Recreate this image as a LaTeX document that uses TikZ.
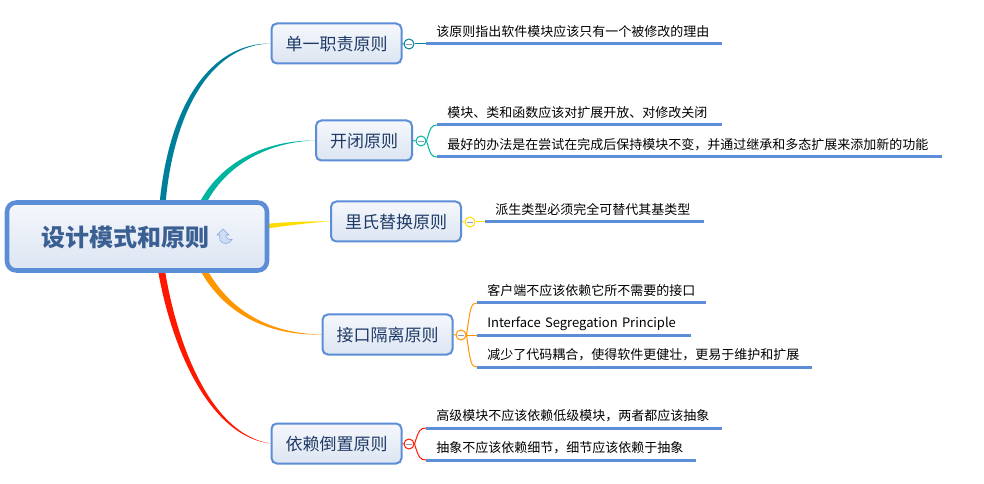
\documentclass[tikz,border=0pt]{standalone}
\usepackage{fontspec}
\setmainfont{Noto Sans CJK SC}
\usetikzlibrary{backgrounds,calc}
\definecolor{Frame}{HTML}{5B8ED6}
\definecolor{FillTop}{HTML}{F5F7FC}
\definecolor{FillBottom}{HTML}{DCE5F2}
\definecolor{RootInk}{HTML}{3A5F92}
\definecolor{TopicInk}{HTML}{1E3A66}
\definecolor{Teal}{HTML}{007F9B}
\definecolor{Mint}{HTML}{00B4A0}
\definecolor{Yellow}{HTML}{FFDC00}
\definecolor{Orange}{HTML}{FF9600}
\definecolor{Red}{HTML}{FF1800}
\definecolor{Minus}{HTML}{8C9BB4}
\tikzset{root/.style={rounded corners=7pt,draw=Frame,line width=3.4pt,top color=FillTop,bottom color=FillBottom,minimum width=195pt,minimum height=51pt,text=RootInk,text height=17pt,text depth=2.2pt,font=\fontsize{18}{20}\selectfont\bfseries},topic/.style={rounded corners=4pt,draw=Frame,line width=1.5pt,top color=FillTop,bottom color=FillBottom,minimum width=97.5pt,minimum height=30pt,text=TopicInk,text height=12.6pt,text depth=1.6pt,font=\fontsize{12.75}{15}\selectfont},leaf/.style={anchor=south west,text width=#1*.75pt-15pt,inner xsep=7.5pt,inner ysep=0pt,minimum height=18.75pt,align=left,font=\fontsize{9.75}{12}\selectfont},under/.style={draw=Frame,line width=2.25pt},twig/.style={line width=.75pt},fold/.style={circle,draw=#1,fill=white,line width=.75pt,minimum size=7.5pt,inner sep=0pt,path picture={\draw[Minus,line width=.6pt]($(path picture bounding box.west)+(2,0)$)--($(path picture bounding box.east)+(-2,0)$);}}}
\begin{document}
\begin{tikzpicture}[x=.75pt,y=-.75pt]
      \useasboundingbox(0,0)rectangle(984,484);
      \node[root](design)at(137,236.5){设计模式和原则\hspace*{18pt}\mbox{}};
      \node[topic](single)at(336.5,43.5){单一职责原则};
      \node[topic,minimum width=72pt](open)at(364,140.5){开闭原则};
      \node[topic](liskov)at(396,221.5){里氏替换原则};
      \node[topic](segregate)at(387.5,334.5){接口隔离原则};
      \node[topic](invert)at(336.5,443.5){依赖倒置原则};
      % folding circles
      \node[fold=Teal](singledot)at(409,44){};
      \node[fold=Mint](opendot)at(421,141){};
      \node[fold=Yellow](liskovdot)at(470,222){};
      \node[fold=Orange](segregatedot)at(461,335){};
      \node[fold=Red](invertdot)at(409,444){};
      % leaves
      \node[leaf=295](singlea)at(426,44){该原则指出软件模块应该只有一个被修改的理由};
      \node[leaf=284](opena)at(437,125){模块、类和函数应该对扩展开放、对修改关闭};
      \node[leaf=504](openb)at(437,157){最好的办法是在尝试在完成后保持模块不变，并通过继承和多态扩展来添加新的功能};
      \node[leaf=218](liskova)at(485,222){派生类型必须完全可替代其基类型};
      \node[leaf=228](segregatea)at(477,303){客户端不应该依赖它所不需要的接口};
      \node[leaf=213](segregateb)at(477,335){\raisebox{-1.2pt}[\height][\depth]{Interface Segregation Principle}};
      \node[leaf=334](segregatec)at(477,367){减少了代码耦合，使得软件更健壮，更易于维护和扩展};
      \node[leaf=295](inverta)at(426,428){高级模块不应该依赖低级模块，两者都应该抽象};
      \node[leaf=269](invertb)at(426,460){抽象不应该依赖细节，细节应该依赖于抽象};
      \foreach \n in {singlea,opena,openb,liskova,segregatea,segregateb,segregatec,inverta,invertb}{\draw[under](\n.south west)--(\n.south east);}
      % tapered branches behind the root
      \begin{pgfonlayer}{background}
        \fill[white](0,0)rectangle(984,484);
        \fill[Teal]($(design.north)+(28,10)$).. controls (172,112) and (211,45) ..(single.west).. controls (209,43) and (167,108) ..($(design.north)+(22,10)$)--cycle;
        \fill[Mint]($(design.north)+(66,10)$).. controls (221,168) and (265,142) ..(open.west).. controls (265,140) and (216,163) ..($(design.north)+(59,10)$)--cycle;
        \fill[Yellow]($(design.east)+(-10,-12)$).. controls (285,222) and (310,221) ..(liskov.west).. controls (310,222.5) and (285,226) ..($(design.east)+(-10,-7)$)--cycle;
        \fill[Orange]($(design.south)+(67,-8.5)$).. controls (229,312) and (270,333.5) ..(segregate.west).. controls (270,336) and (222,315) ..($(design.south)+(60,-8.5)$)--cycle;
        \fill[Red]($(design.south)+(27,-8.5)$).. controls (175,339) and (209,434) ..(invert.west).. controls (207,436) and (169,341) ..($(design.south)+(20,-8.5)$)--cycle;
      \end{pgfonlayer}
      % twigs
      \draw[twig,Teal](single.east)--(singledot.west);\draw[twig,Teal](singledot.east)--(singlea.south west);
      \draw[twig,Mint](open.east)--(opendot.west);
      \draw[twig,Mint](opendot.east).. controls +(4,-13) and +(-6,0) ..(opena.south west);
      \draw[twig,Mint](opendot.east).. controls +(4,13) and +(-6,0) ..(openb.south west);
      \draw[twig,Yellow](liskov.east)--(liskovdot.west);\draw[twig,Yellow](liskovdot.east)--(liskova.south west);
      \draw[twig,Orange](segregate.east)--(segregatedot.west);\draw[twig,Orange](segregatedot.east)--(segregateb.south west);
      \draw[twig,Orange](segregatedot.east).. controls +(4,-28) and +(-6,0) ..(segregatea.south west);
      \draw[twig,Orange](segregatedot.east).. controls +(4,28) and +(-6,0) ..(segregatec.south west);
      \draw[twig,Red](invert.east)--(invertdot.west);
      \draw[twig,Red](invertdot.east).. controls +(4,-13) and +(-6,0) ..(inverta.south west);
      \draw[twig,Red](invertdot.east).. controls +(4,13) and +(-6,0) ..(invertb.south west);
      % refresh icon in the root
      \filldraw[draw=Frame!80,fill=Frame!30,line width=.4pt](223,229)--(229,235)--(226,235).. controls (225.5,238) and (228,240) ..(232,239.5).. controls (230,244) and (222,245.5) ..(220,240).. controls (219.5,238) and (219.5,236) ..(220,235)--(217,235)--cycle;
    \end{tikzpicture}
\end{document}
